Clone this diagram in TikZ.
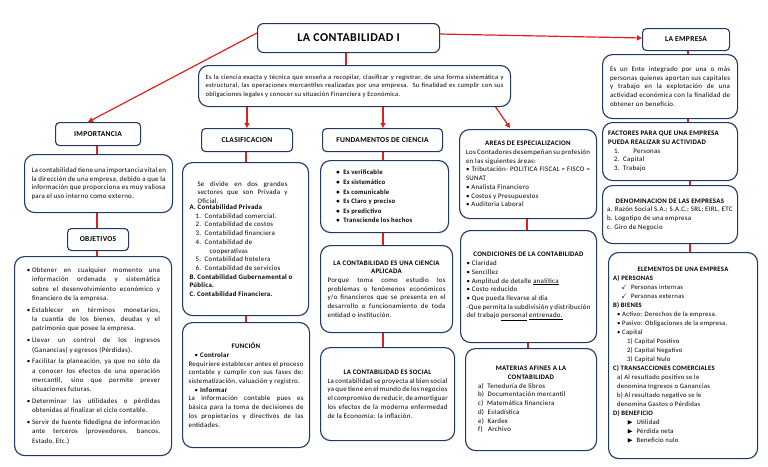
\documentclass[tikz,border=0pt]{standalone}
\usepackage{amssymb}
\usepackage{fontspec}
\setmainfont{Carlito}[LetterSpace=4]
\usetikzlibrary{arrows.meta}
\definecolor{navy}{HTML}{1F3864}
\definecolor{lred}{HTML}{E0201E}
\newcommand{\sm}{\fontsize{6.9}{8.7}\selectfont\hyphenpenalty=10000\exhyphenpenalty=10000}
\newcommand{\jus}{\rightskip=0pt\relax\parfillskip=0pt plus 1fil\relax}
\newcommand{\bul}{\leavevmode\llap{\textbullet\ }}
\tikzset{
 box/.style={draw=navy,line width=1.1pt,rounded corners=10pt,fill=white,anchor=north west,inner sep=0pt,align=center},
 tbox/.style={box,rounded corners=4pt,font=\fontsize{7.5}{8}\selectfont\bfseries},
 con/.style={draw=lred,line width=1.2pt},
 arr/.style={con,-{Triangle[length=5pt,width=5pt]}},
}
\newcommand{\bx}[6]{\node[box,minimum width=#3pt,minimum height=#4pt] (#1) at (#2) {\begin{minipage}{#5pt}\sm #6\end{minipage}};}
\begin{document}
\begin{tikzpicture}[x=1pt,y=-1pt]
\useasboundingbox (0,0) rectangle (768,466);
\draw[con] (346,52) -- (346,65);
\draw[arr] (257,33) -- (88,122);
\draw[arr] (439,34) -- (642,38);
\draw[arr] (247,106) -- (247,128);
\draw[arr] (383,106) -- (383,128);
\draw[arr] (495,106) -- (510,128);
\draw[con] (97,145) -- (97,154);
\draw[con] (97,212) -- (97,228);
\draw[con] (97,250) -- (97,256);
\draw[con] (246,151) -- (246,162);
\draw[con] (246,315) -- (246,322);
\draw[con] (383,151) -- (383,160);
\draw[con] (383,232) -- (383,245);
\draw[con] (383,332) -- (383,347);
\draw[con] (527,218) -- (527,230);
\draw[con] (528,342) -- (528,348);
\draw[con] (688,50) -- (688,54);
\draw[con] (688,118) -- (688,122);
\draw[con] (690,180) -- (690,185);
\draw[con] (690,243) -- (690,252);

\node[tbox,rounded corners=6pt,minimum width=182pt,minimum height=29pt,font=\fontsize{12}{14}\selectfont\bfseries] (title) at (257,23) {LA CONTABILIDAD I};
\bx{def}{198,65}{312}{41}{298}{\fontsize{6.6}{8.4}\selectfont Es la ciencia exacta y técnica que enseña a recopilar, clasificar y registrar, de una forma sistemática y estructural, las operaciones mercantiles realizadas por una empresa. Su finalidad es cumplir con sus obligaciones legales y conocer su situación Financiera y Económica.}
\node[tbox,minimum width=87pt,minimum height=22pt] (emp) at (642,28) {LA EMPRESA};
\bx{empt}{602,54}{135}{64}{120}{Es un Ente integrado por una o más personas quienes aportan sus capitales y trabajo en la explotación de una actividad económica con la finalidad de obtener un beneficio.}
\bx{fact}{602,122}{135}{58}{124}{\raggedright\textbf{FACTORES PARA QUE UNA EMPRESA PUEDA REALIZAR SU ACTIVIDAD}\\
\hspace*{6pt}1.\qquad Personas\\\hspace*{6pt}2.\ \ Capital\\\hspace*{6pt}3.\ \ Trabajo}
\bx{deno}{602,185}{135}{58}{126}{\raggedright\centerline{\textbf{DENOMINACION DE LAS EMPRESAS}}a. Razón Social S.A.; S.A.C.; SRL; EIRL, ETC\\ b. Logotipo de una empresa\\ c. Giro de Negocio}
\bx{elem}{608,252}{149}{206}{140}{\fontsize{6.7}{9}\selectfont\raggedright\centerline{\textbf{ELEMENTOS DE UNA EMPRESA}}\textbf{A) PERSONAS}\\
\hspace*{8pt}$\checkmark$\ \ Personas internas\\\hspace*{8pt}$\checkmark$\ \ Personas externas\\
\textbf{B) BIENES}\\
\hspace*{4pt}\textbullet\ Activo: Derechos de la empresa.\\\hspace*{4pt}\textbullet\ Pasivo: Obligaciones de la empresa.\\\hspace*{4pt}\textbullet\ Capital\\
\hspace*{14pt}1) Capital Positivo\\\hspace*{14pt}2) Capital Negativo\\\hspace*{14pt}3) Capital Nulo\\
\textbf{C) TRANSACCIONES COMERCIALES}\\
\hspace*{4pt}a) Al resultado positivo se le\\\hspace*{4pt}denomina Ingresos o Ganancias\\\hspace*{4pt}b) Al resultado negativo se le\\\hspace*{4pt}denomina Gastos o Pérdidas\\
\textbf{D) BENEFICIO}\\
\hspace*{14pt}$\blacktriangleright$\ \ Utilidad\\\hspace*{14pt}$\blacktriangleright$\ \ Pérdida neta\\\hspace*{14pt}$\blacktriangleright$\ \ Beneficio nulo}

\node[tbox,minimum width=85pt,minimum height=23pt] (imp) at (55,122) {IMPORTANCIA};
\bx{impt}{24,154}{148}{58}{134}{La contabilidad tiene una importancia vital en la dirección de una empresa, debido a que la información que proporciona es muy valiosa para el uso interno como externo.}
\node[tbox,minimum width=61pt,minimum height=22pt] (obj) at (67,228) {OBJETIVOS};
\bx{objt}{14,256}{157}{199}{134}{\fontsize{6.9}{9.3}\selectfont\setlength{\parskip}{2.5pt}\leftskip=6pt\parindent=0pt
\bul Obtener en cualquier momento una información ordenada y sistemática sobre el desenvolvimiento económico y financiero de la empresa.\par
\bul Establecer en términos monetarios, la cuantía de los bienes, deudas y el patrimonio que posee la empresa.\par
\bul Llevar un control de los ingresos (Ganancias) y egresos (Pérdidas).\par
\bul Facilitar la planeación, ya que no sólo da a conocer los efectos de una operación mercantil, sino que permite prever situaciones futuras.\par
\bul Determinar las utilidades o pérdidas obtenidas al finalizar el ciclo contable.\par
\bul Servir de fuente fidedigna de información ante terceros (proveedores, bancos, Estado, Etc.)}

\node[tbox,minimum width=91pt,minimum height=23pt] (clas) at (201,128) {CLASIFICACION};
\bx{clast}{182,162}{126}{153}{112}{\raggedright\hspace*{8pt}\parbox[t]{90pt}{Se divide en dos grandes sectores que son Privada y Oficial.}\\
\textbf{A. Contabilidad Privada}\\
\hspace*{6pt}1.\ \ Contabilidad comercial.\\\hspace*{6pt}2.\ \ Contabilidad de costos\\\hspace*{6pt}3.\ \ Contabilidad financiera\\\hspace*{6pt}4.\ \ Contabilidad de\\\hspace*{20pt}cooperativas\\\hspace*{6pt}5.\ \ Contabilidad hotelera\\\hspace*{6pt}6.\ \ Contabilidad de servicios\\
\textbf{B. Contabilidad Gubernamental o Pública.}\\\textbf{C. Contabilidad Financiera.}}
\bx{func}{182,322}{127}{125}{115}{\centerline{\textbf{FUNCIÓN}}\raggedright
\hspace*{6pt}\textbullet\ \textbf{Controlar}\par
\jus Requiriere establecer antes el proceso contable y cumplir con sus fases de: sistematización, valuación y registro.\par
\raggedright\hspace*{6pt}\textbullet\ \textbf{Informar}\par
\jus La información contable pues es básica para la toma de decisiones de los propietarios y directivos de las entidades.}

\node[tbox,minimum width=120pt,minimum height=23pt] (fund) at (322,128) {FUNDAMENTOS DE CIENCIA};
\bx{fundt}{320,160}{128}{72}{106}{\fontsize{6.7}{9.6}\selectfont\bfseries\leftskip=10pt\parindent=0pt
\bul\ Es verificable\par\bul\ Es sistemático\par\bul\ Es comunicable\par\bul\ Es Claro y preciso\par\bul\ Es predictivo\par\bul\ Transciende los hechos}
\bx{cien}{320,245}{132}{87}{118}{\centering\textbf{LA CONTABILIDAD ES UNA CIENCIA APLICADA}\par\leftskip=0pt\jus Porque toma como estudio los problemas o fenómenos económicos y/o financieros que se presenta en el desarrollo o funcionamiento de toda entidad o institución.}
\bx{soc}{320,347}{134}{93}{120}{\centering\textbf{LA CONTABILIDAD ES SOCIAL}\par\leftskip=0pt\jus La contabilidad se proyecta al bien social ya que tiene en el mundo de los negocios el compromiso de reducir, de amortiguar los efectos de la moderna enfermedad de la Economía: la inflación.}

\bx{area}{459,129}{137}{89}{124}{\centering\textbf{AREAS DE ESPECIALIZACION}\par\leftskip=0pt\jus Los Contadores desempeñan su profesión en las siguientes áreas:\par
\textbullet\ Tributación- POLITICA FISCAL = FISCO = SUNAT\par\raggedright
\textbullet\ Analista Financiero\\\textbullet\ Costos y Presupuestos\\\textbullet\ Auditoria Laboral}
\bx{cond}{460,230}{136}{112}{124}{\centering\textbf{CONDICIONES DE LA CONTABILIDAD}\par\raggedright
\textbullet\ Claridad\\\textbullet\ Sencillez\\\textbullet\ Amplitud de detalle \underline{analítica}\\\textbullet\ Costo reducido\\\textbullet\ Que pueda llevarse al día\par
\jus -Que permita la subdivisión y distribución del trabajo \underline{personal} \underline{entrenado.}}
\bx{mat}{465,348}{131}{102}{114}{\centering\textbf{MATERIAS AFINES A LA CONTABILIDAD}\par\raggedright
\hspace*{4pt}a)\ \ Teneduría de libros\\\hspace*{4pt}b)\ \ Documentación mercantil\\\hspace*{4pt}c)\ \ Matemática financiera\\\hspace*{4pt}d)\ \ Estadística\\\hspace*{4pt}e)\ \ Kardex\\\hspace*{4pt}f)\ \ \ Archivo}
\end{tikzpicture}
\end{document}
